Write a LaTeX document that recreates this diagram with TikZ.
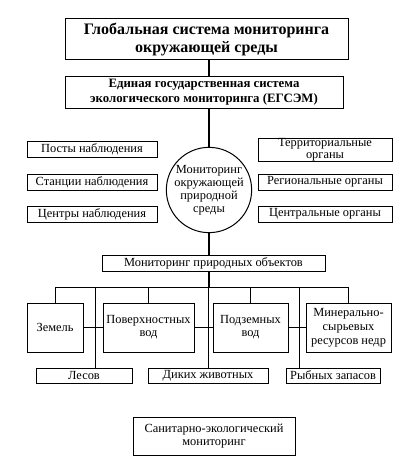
\documentclass[tikz,border=0pt]{standalone}
\usepackage{fontspec}
\setmainfont{Liberation Serif}
\usetikzlibrary{positioning}

\begin{document}
\begin{tikzpicture}[x=1pt,y=-1pt,
	box/.style={draw,line width=1pt,inner sep=0pt,align=center,font=\fontsize{12.4}{13}\selectfont},
	head/.style={box,font=\bfseries\fontsize{16}{18}\selectfont},
	trunk/.style={line width=1.5pt},
	link/.style={line width=1pt}]
	\useasboundingbox (0,0) rectangle (408,460);
	\node(glob) [head,minimum width=283pt,minimum height=41pt] at (206.5,39.5) {Глобальная система мониторинга\\окружающей среды};
	\node(egsem) [box,font=\bfseries\fontsize{12.8}{15}\selectfont,minimum width=278pt,minimum height=32pt] at (204,92) {Единая государственная система\\экологического мониторинга (ЕГСЭМ)};
	\node(mon) [box,circle,minimum size=76pt] at (209,190) {Мониторинг\\окружающей\\природной\\среды};
	
	\node(posts) [box,minimum width=130pt,minimum height=16pt] at (92,149) {Посты наблюдения};
	\node(stations) [box,minimum width=130pt,minimum height=16pt] at (92,182) {Станции наблюдения};
	\node(centers) [box,minimum width=130pt,minimum height=16pt] at (92,214) {Центры наблюдения};
	\node(terr) [box,font=\fontsize{12.4}{11.5}\selectfont,minimum width=134pt,minimum height=22pt] at (325,150) {Территориальные\\органы};
	\node(reg) [box,minimum width=134pt,minimum height=16pt] at (325,182) {Региональные органы};
	\node(central) [box,minimum width=134pt,minimum height=16pt] at (325,214) {Центральные органы};
	
	\node(mpo) [box,minimum width=223pt,minimum height=16pt] at (213.5,263) {Мониторинг природных объектов};
	\coordinate(bus) at (209,287);
	
	\node(zem) [box,minimum width=56pt,minimum height=49pt] at (55,327.5) {Земель};
	\node(pov) [box,minimum width=91pt,minimum height=49pt] at (148.5,327.5) {Поверхностных\\вод};
	\node(podz) [box,minimum width=75pt,minimum height=49pt] at (250.5,327.5) {Подземных\\вод};
	\node(min) [box,font=\fontsize{12.4}{14}\selectfont,minimum width=85pt,minimum height=49pt] at (348.5,327.5) {Минерально-\\сырьевых\\ресурсов недр};
	
	\node(les) [box,minimum width=96pt,minimum height=15pt] at (84,375.5) {Лесов};
	\node(zhiv) [box,minimum width=120pt,minimum height=15pt] at (208,375.5) {Диких животных};
	\node(ryb) [box,minimum width=94pt,minimum height=15pt] at (333,375.5) {Рыбных запасов};
	
	\node(san) [box,minimum width=162pt,minimum height=38pt] at (214,436) {Санитарно-экологический\\мониторинг};
	
	\coordinate(d1) at (95,287);
	\coordinate(d2) at (208,287);
	\coordinate(d3) at (299,287);
	
	\draw[trunk] (glob.south -| mon) --(egsem.north -| mon);
	\draw[trunk] (egsem.south -| mon) --(mon);
	\draw[trunk] (mon) --(mpo.north -| mon);
	\draw[trunk] (mpo.south -| bus) --(bus);
	
	\draw[link] (zem.north |- bus) --(min.north |- bus);
	\draw[link] (zem.north |- bus) --(zem.north);
	\draw[link] (pov.north |- bus) --(pov.north);
	\draw[link] (podz.north |- bus) --(podz.north);
	\draw[link] (min.north |- bus) --(min.north);
	\draw[link] (d1) --(d1 |- les.north);
	\draw[link] (d2) --(d2 |- zhiv.north);
	\draw[link] (d3) --(d3 |- ryb.north);
	
	\draw[link] (zem.east) --(pov.west);
	\draw[link] (pov.east) --(podz.west);
	\draw[link] (podz.east) --(min.west);
\end{tikzpicture}
\end{document}
